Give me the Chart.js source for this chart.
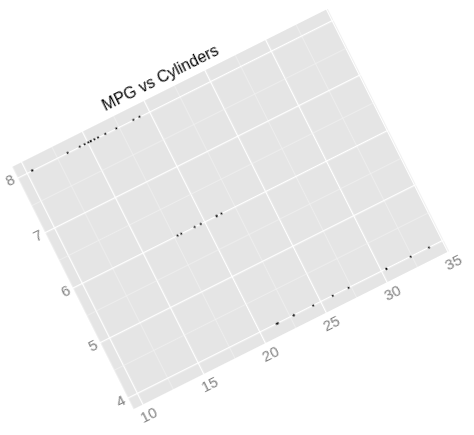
<!DOCTYPE html>
<html>
<head>
<meta charset="utf-8">
<script src="https://cdn.jsdelivr.net/npm/chart.js@4"></script>
<style>
  body { margin: 0; background: #fff; width: 474px; height: 435px; overflow: hidden; position: relative; }
  #wrap { position: absolute; left: 38px; top: 42px; width: 380px; height: 325px;
          transform-origin: 200px 165px; transform: rotate(-26.6deg); }
</style>
</head>
<body>
<div id="wrap"><canvas id="c" width="380" height="325"></canvas></div>
<script>
// mtcars: cylinders and mpg
const cyl4 = [22.8, 24.4, 22.8, 32.4, 30.4, 33.9, 21.5, 27.3, 26.0, 30.4, 21.4];
const cyl6 = [21.0, 21.0, 21.4, 18.1, 19.2, 17.8, 19.7];
const cyl8 = [18.7, 14.3, 16.4, 17.3, 15.2, 10.4, 10.4, 14.7, 15.5, 15.2, 13.3, 19.2, 15.8, 15.0];
const xTicks = [10, 12.5, 15, 17.5, 20, 22.5, 25, 27.5, 30, 32.5, 35];
const yTicks = [4, 4.5, 5, 5.5, 6, 6.5, 7, 7.5, 8];

const points = [];
cyl4.forEach(v => points.push({ x: v, y: 4 }));
cyl6.forEach(v => points.push({ x: v, y: 6 }));
cyl8.forEach(v => points.push({ x: v, y: 8 }));

const panelBg = {
  id: 'panelBg',
  beforeDraw(chart) {
    const a = chart.chartArea, ctx = chart.ctx;
    ctx.save();
    ctx.fillStyle = '#e5e5e5';
    ctx.fillRect(a.left, a.top, a.width, a.height);
    ctx.restore();
  },
  afterDraw(chart) {
    const a = chart.chartArea, ctx = chart.ctx;
    ctx.save();
    ctx.fillStyle = '#000';
    ctx.font = '16px "Liberation Sans", Arial, sans-serif';
    ctx.textBaseline = 'bottom';
    ctx.fillText('MPG vs Cylinders', a.left + 108, a.top - 4);
    ctx.restore();
  }
};

new Chart(document.getElementById('c'), {
  type: 'scatter',
  data: { datasets: [{ data: points, backgroundColor: '#000', borderWidth: 0, pointRadius: 1 }] },
  plugins: [panelBg],
  options: {
    responsive: false,
    animation: false,
    layout: { padding: { top: 28, right: 5, left: 0, bottom: 0 } },
    plugins: { legend: { display: false }, tooltip: { enabled: false } },
    scales: {
      x: {
        min: 9.225, max: 35.075,
        afterBuildTicks: s => { s.ticks = xTicks.map(v => ({ value: v })); },
        border: { display: false },
        grid: { color: c => c.tick && c.tick.value % 5 === 0 ? '#fff' : '#f2f2f2',
                lineWidth: c => c.tick && c.tick.value % 5 === 0 ? 1.2 : 0.6, drawTicks: false },
        ticks: { color: '#7f7f7f', font: { size: 15, family: 'Liberation Sans' }, maxRotation: 0, autoSkip: false,
                 padding: 4, callback: v => v % 5 === 0 ? v : '' }
      },
      y: {
        min: 3.8, max: 8.2,
        afterBuildTicks: s => { s.ticks = yTicks.map(v => ({ value: v })); },
        border: { display: false },
        grid: { color: c => c.tick && Number.isInteger(c.tick.value) ? '#fff' : '#f2f2f2',
                lineWidth: c => c.tick && Number.isInteger(c.tick.value) ? 1.2 : 0.6, drawTicks: false },
        ticks: { color: '#7f7f7f', font: { size: 15, family: 'Liberation Sans' }, autoSkip: false, padding: 4,
                 callback: v => Number.isInteger(v) ? v : '' }
      }
    }
  }
});
</script>
</body>
</html>
